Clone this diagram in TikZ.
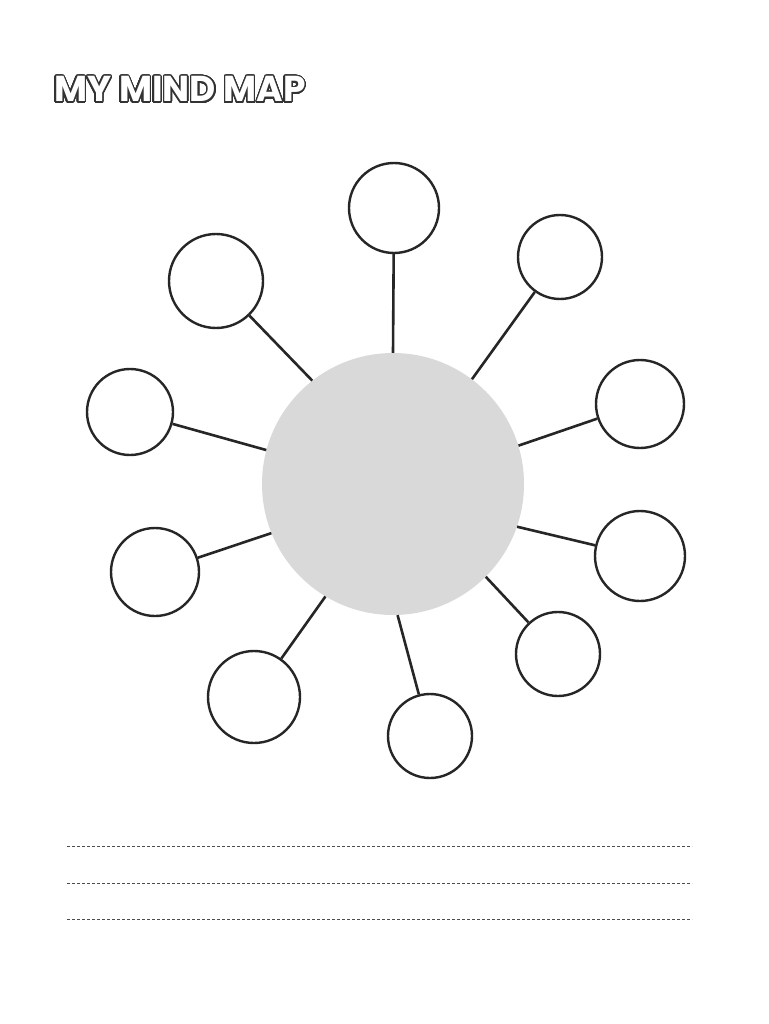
\documentclass[tikz,border=0pt]{standalone}
\usepackage{fontspec}
\usepackage[copies]{contour}
\newfontfamily\titlefont{Poppins}[BoldFont=* Bold]
\contourlength{1.3pt}
\contournumber{40}
\tikzstyle{idea}=[circle,draw=black!85,line width=2.4pt,inner sep=0pt]
\tikzstyle{spoke}=[draw=black!85,line width=2.6pt]
\tikzstyle{writeline}=[draw=black!70,line width=0.8pt,dash pattern=on 3pt off 2pt]
\newcommand{\drawidea}[5]{
  % #1 name, #2 x, #3 y, #4 radius, #5 angle on the hub
  \node[idea,minimum size=2*#4] (#1) at (#2,#3) {};
  \draw[spoke] (#1) -- (hub.#5);
}

\begin{document}
\begin{tikzpicture}[x=1pt,y=-1pt]
	\useasboundingbox (0,0) rectangle (768,1024);
	\fill[white] (0,0) rectangle (768,1024);
	\node[anchor=west,inner sep=0pt] (title) at (54,90)
	  {\titlefont\bfseries\fontsize{36}{40}\selectfont\contour{black!80}{\textcolor{white}{MY MIND MAP}}};
	\node[circle,fill=black!15,minimum size=262,inner sep=0pt] (hub) at (393,484) {};
	\foreach \nm/\x/\y/\r/\a in {top/394/208/45/90, topright/560/257/42/53, rightup/640/404/44/17,
	    rightdown/640/556/45/-19, botright/558/654/42/-45, bot/430/736/42/-88, botleft/254/697/46/-121,
	    leftdown/155/572/44/-158, leftup/130/412/43/165, topleft/216/281/47/128}{
	  \drawidea{\nm}{\x}{\y}{\r}{\a}
	}
	% lines for writing
	\foreach \y [count=\i] in {846,883,919} {
	  \coordinate (l\i) at (67,\y);
	  \coordinate (r\i) at (692,\y);
	  \draw[writeline] (l\i) -- (r\i);
	}
\end{tikzpicture}
\end{document}
